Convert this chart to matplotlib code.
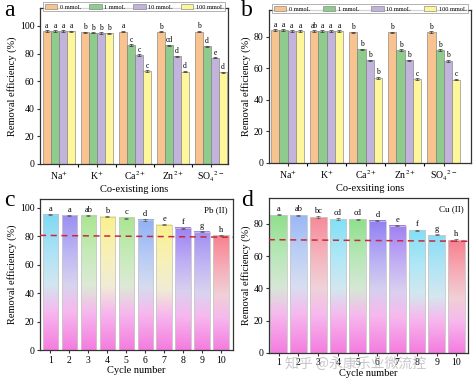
import numpy as np
import matplotlib
matplotlib.use("Agg")
import matplotlib.pyplot as plt
from matplotlib.colors import LinearSegmentedColormap, to_rgb

plt.rcParams['font.family'] = ['Liberation Serif', 'DejaVu Serif']
plt.rcParams['mathtext.fontset'] = 'stix'

# ---------------- data ----------------
ions = [r'Na$^{+}$', r'K$^{+}$', r'Ca$^{2+}$', r'Zn$^{2+}$', r'SO$_4$$^{2-}$']
conc_labels = ['0 mmoL', '1 mmoL', '10 mmoL', '100 mmoL']
conc_colors = ['#f9c38f', '#8ecb8c', '#c2b3dd', '#fdf69a']

a_vals = [
    [96.5, 95.5, 96.0, 95.8, 96.0],
    [96.4, 95.2, 86.2, 86.0, 85.2],
    [96.3, 95.0, 79.0, 78.0, 77.0],
    [96.2, 94.7, 67.5, 67.0, 66.5],
]
a_letters = [
    ['a', 'b', 'a', 'b', 'b'],
    ['a', 'b', 'c', 'cd', 'd'],
    ['a', 'b', 'c', 'd', 'e'],
    ['a', 'b', 'c', 'd', 'd'],
]
b_vals = [
    [84.3, 83.6, 82.8, 82.8, 83.0],
    [84.2, 83.5, 72.0, 71.5, 71.5],
    [83.8, 83.5, 65.0, 65.0, 64.8],
    [83.5, 83.5, 54.0, 53.2, 52.8],
]
b_letters = [
    ['a', 'ab', 'b', 'b', 'b'],
    ['a', 'a', 'b', 'b', 'b'],
    ['a', 'a', 'b', 'b', 'b'],
    ['a', 'a', 'b', 'c', 'c'],
]
err_ab = 0.5

cycles = [1, 2, 3, 4, 5, 6, 7, 8, 9, 10]
c_vals = [95.0, 94.5, 94.3, 93.5, 92.5, 91.3, 88.0, 85.5, 83.0, 80.5]
c_letters = ['a', 'a', 'ab', 'b', 'c', 'd', 'e', 'f', 'g', 'h']
c_tops = ['#7fd9f4', '#9a8ff2', '#a9e690', '#faf08c', '#a9e690',
          '#8fb1f5', '#faf08c', '#9c82f2', '#a08ef2', '#f8808e']
c_ref = [80.5, 79.2]

d_vals = [85.7, 85.3, 84.3, 83.1, 82.9, 82.0, 78.9, 76.0, 73.2, 70.0]
d_letters = ['a', 'ab', 'bc', 'cd', 'cd', 'd', 'e', 'f', 'g', 'h']
d_tops = ['#8fe08c', '#9ab8f5', '#f78a98', '#82e0f5', '#8fe08c',
          '#9080f2', '#a080f2', '#82e0f5', '#88dcf5', '#f8808e']
d_ref = [70.2, 69.2]
err_cd = 0.4

fig = plt.figure(figsize=(4.74, 3.84), dpi=100)

def style_axes(ax):
    for s in ax.spines.values():
        s.set_linewidth(0.9)
        s.set_color('#333333')
    ax.tick_params(axis='both', direction='out', length=2.5, width=0.8,
                   labelsize=7, pad=1.5, color='#333333')

def grouped(ax, vals, letters, ylim, yticks, xlabel, xlim):
    ngr = len(ions)
    w = 0.212
    x = np.arange(ngr)
    for i in range(4):
        xs = x + (i - 1.5) * w
        ax.bar(xs, vals[i], width=w, color=conc_colors[i], edgecolor='#777777',
               linewidth=0.4, label=conc_labels[i], zorder=2,
               yerr=err_ab, error_kw=dict(elinewidth=0.5, capsize=1.2, capthick=0.5, ecolor='#333333'))
        for xx, v, lt in zip(xs, vals[i], letters[i]):
            ax.text(xx, v + 0.8, lt, ha='center', va='bottom', fontsize=5.5)
    ax.set_xlim(*xlim)
    ax.set_ylim(*ylim)
    ax.set_yticks(yticks)
    ax.set_xticks(x)
    ax.set_xticklabels(ions)
    ax.set_xticks(x[:-1] + 0.5, minor=True)
    ax.tick_params(axis='x', which='major', length=0)
    ax.tick_params(axis='x', which='minor', length=2, width=0.8)
    ax.set_ylabel('Removal efficiency (%)', fontsize=7.5, labelpad=2)
    ax.set_xlabel(xlabel, fontsize=7.5, labelpad=1)
    leg = ax.legend(loc='upper left', ncol=4, fontsize=4.5, frameon=True,
                    mode='expand', bbox_to_anchor=(0.01, 0.995, 0.98, 0.05),
                    handlelength=2.0, handleheight=0.9, handletextpad=0.4,
                    columnspacing=0.5, borderpad=0.25, fancybox=False, borderaxespad=0.2)
    leg.get_frame().set_linewidth(0.5)
    leg.get_frame().set_edgecolor('#777777')

def grad_cmap(top):
    t = np.array(to_rgb(top))
    mid = 0.25 * t + 0.75 * np.array([0.93, 0.92, 0.93])
    up = 0.6 * t + 0.4 * np.array([0.95, 0.95, 0.97])
    return LinearSegmentedColormap.from_list('g', [
        (0.0, '#f47cdf'), (0.28, '#f7b8ee'), (0.48, tuple(mid)), (0.72, tuple(up)), (1.0, top)])

def gradient_bars(ax, vals, letters, tops, ref, ylim, yticks, w, xlim, tag, err):
    grad = np.linspace(0, 1, 256).reshape(-1, 1)
    for xx, v, top, lt in zip(cycles, vals, tops, letters):
        ax.imshow(grad, extent=[xx - w / 2, xx + w / 2, 0, v], origin='lower',
                  aspect='auto', cmap=grad_cmap(top), zorder=1, interpolation='bilinear')
        ax.text(xx, v + 1.3, lt, ha='center', va='bottom', fontsize=6)
    ax.bar(cycles, vals, width=w, facecolor='none', edgecolor='#c8c8c8', linewidth=0.6, zorder=2,
           yerr=err, error_kw=dict(elinewidth=0.5, capsize=1.5, capthick=0.5, ecolor='#555555'))
    ax.plot(list(xlim), ref, ls=(0, (4, 3)), color='#c8283c', lw=1.1, zorder=3)
    ax.set_xlim(*xlim)
    ax.set_ylim(*ylim)
    ax.set_yticks(yticks)
    ax.set_xticks(cycles)
    ax.set_ylabel('Removal efficiency (%)', fontsize=7.5, labelpad=2)
    ax.set_xlabel('Cycle number', fontsize=7.5, labelpad=1)
    ax.text(0.975, 0.955, tag, transform=ax.transAxes, ha='right', va='top', fontsize=6.5)

axa = fig.add_axes([0.0844, 0.573, 0.397, 0.406])
grouped(axa, a_vals, a_letters, (0, 113), [0, 20, 40, 60, 80, 100], 'Co-existing ions', (-0.5, 4.45))
style_axes(axa)

axb = fig.add_axes([0.567, 0.576, 0.427, 0.398])
grouped(axb, b_vals, b_letters, (0, 97), [0, 20, 40, 60, 80], 'Co-exsiting ions', (-0.48, 4.7))
style_axes(axb)

axc = fig.add_axes([0.0844, 0.0878, 0.407, 0.394])
gradient_bars(axc, c_vals, c_letters, c_tops, c_ref, (0, 106), [0, 20, 40, 60, 80, 100],
              0.8, (0.46, 10.63), 'Pb (II)', err_cd)
style_axes(axc)

axd = fig.add_axes([0.567, 0.0815, 0.421, 0.4025])
gradient_bars(axd, d_vals, d_letters, d_tops, d_ref, (0, 96), [0, 20, 40, 60, 80],
              0.85, (0.5, 10.6), 'Cu (II)', err_cd)
style_axes(axd)

for txt, x, y in [('a', 0.008, 1.0), ('b', 0.508, 1.0), ('c', 0.008, 0.505), ('d', 0.508, 0.505)]:
    fig.text(x, y, txt, fontsize=17, va='top', ha='left')

fig.text(0.75, 0.052, '知乎 @永康乐业微流控', fontsize=10, color='#b0b0b0', alpha=0.7,
         ha='center', va='center', family=['Noto Sans CJK SC', 'DejaVu Sans'], zorder=0)

fig.savefig('out.png', dpi=100)
